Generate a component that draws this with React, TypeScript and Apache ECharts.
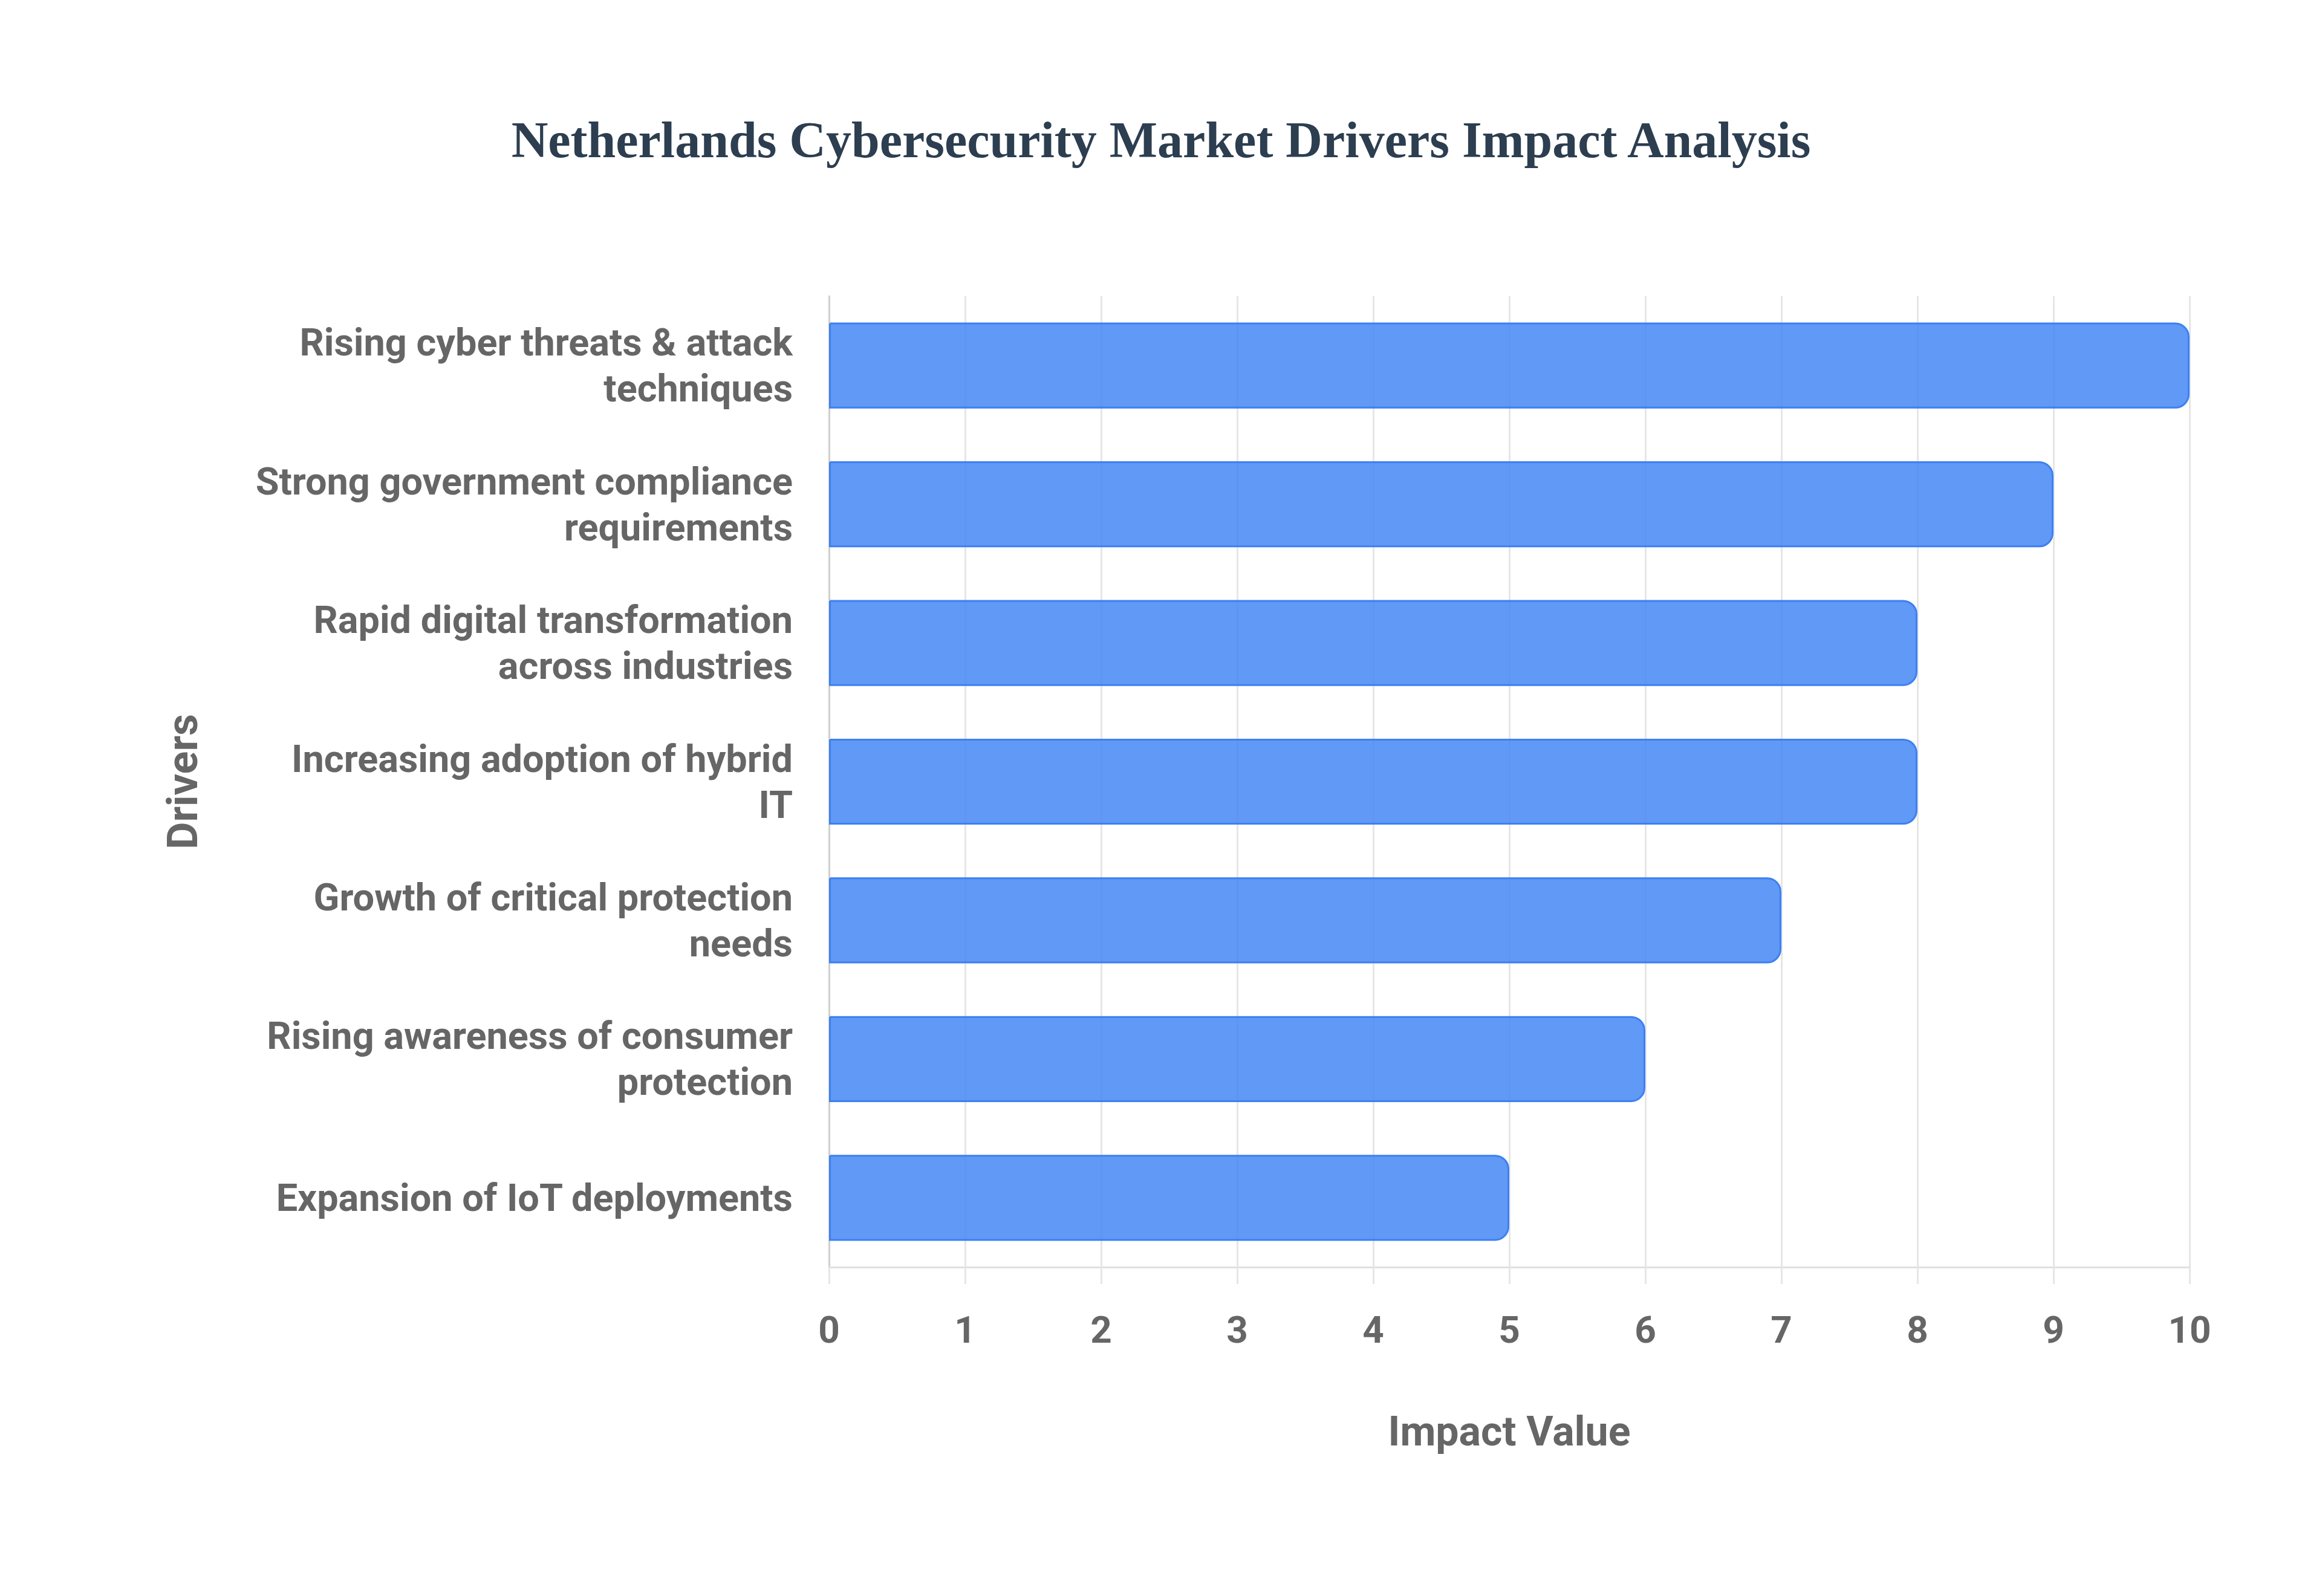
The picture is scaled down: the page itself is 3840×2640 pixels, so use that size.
import React, { useEffect, useRef } from 'react';
import * as echarts from 'echarts';

const drivers = [
  'Rising cyber threats & attack\ntechniques',
  'Strong government compliance\nrequirements',
  'Rapid digital transformation\nacross industries',
  'Increasing adoption of hybrid\nIT',
  'Growth of critical protection\nneeds',
  'Rising awareness of consumer\nprotection',
  'Expansion of IoT deployments',
];
const impactValues = [10, 9, 8, 8, 7, 6, 5];

const labelFont = 'Roboto, "Liberation Sans", Arial, sans-serif';

const App: React.FC = () => {
  const chartRef = useRef<HTMLDivElement>(null);

  useEffect(() => {
    document.body.style.margin = '0';
    const myChart = echarts.init(chartRef.current!, null, { renderer: 'svg' });

    const option = {
      animation: false,
      backgroundColor: '#ffffff',
      title: {
        text: 'Netherlands Cybersecurity Market Drivers Impact Analysis',
        left: 'center',
        top: 184,
        textStyle: {
          fontFamily: '"Liberation Serif", "Times New Roman", serif',
          fontWeight: 'bold',
          fontSize: 84,
          color: '#2c3e50',
        },
      },
      grid: {
        left: 1371,
        right: 219,
        top: 490,
        bottom: 544,
        containLabel: false,
      },
      xAxis: {
        type: 'value',
        min: 0,
        max: 10,
        interval: 1,
        name: 'Impact Value',
        nameLocation: 'middle',
        nameGap: 238,
        nameTextStyle: {
          fontFamily: labelFont,
          fontWeight: 'bold',
          fontSize: 68,
          color: '#666666',
        },
        axisLine: { show: true, lineStyle: { color: '#e0e0e0', width: 3 } },
        axisTick: { show: true, length: 28, lineStyle: { color: '#e6e6e6', width: 3 } },
        splitLine: { show: true, lineStyle: { color: '#e6e6e6', width: 3 } },
        axisLabel: {
          margin: 72,
          fontFamily: labelFont,
          fontWeight: 'bold',
          fontSize: 62,
          color: '#666666',
        },
      },
      yAxis: {
        type: 'category',
        inverse: true,
        data: drivers,
        name: 'Drivers',
        nameLocation: 'middle',
        nameGap: 1034,
        nameTextStyle: {
          fontFamily: labelFont,
          fontWeight: 'bold',
          fontSize: 70,
          color: '#666666',
        },
        axisLine: { show: true, lineStyle: { color: '#cfcfcf', width: 3 } },
        axisTick: { show: false },
        splitLine: { show: false },
        axisLabel: {
          margin: 60,
          fontFamily: labelFont,
          fontWeight: 'bold',
          fontSize: 63,
          lineHeight: 76,
          color: '#666666',
          align: 'right',
        },
      },
      series: [
        {
          type: 'bar',
          data: impactValues,
          barCategoryGap: '38%',
          itemStyle: {
            color: 'rgba(66,133,244,0.84)',
            borderColor: '#3d80f2',
            borderWidth: 3,
            borderRadius: [0, 22, 22, 0],
          },
        },
      ],
    };

    myChart.setOption(option);

    return () => {
      myChart.dispose();
    };
  }, []);

  return <div ref={chartRef} style={{ width: '3840px', height: '2640px' }} />;
};

export default App;
